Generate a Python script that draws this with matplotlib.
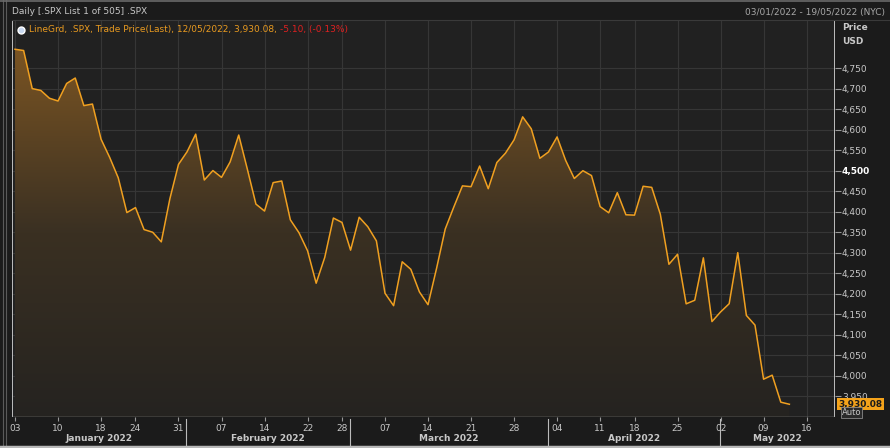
import numpy as np
import matplotlib.pyplot as plt
from matplotlib.colors import LinearSegmentedColormap
from matplotlib.lines import Line2D

# S&P 500 daily closes, 03/01/2022 - 12/05/2022 (trading days)
closes = [4796.56, 4793.54, 4700.58, 4696.05, 4677.03, 4670.29, 4713.07, 4726.35, 4659.03, 4662.85,
          4577.11, 4532.76, 4482.73, 4397.94, 4410.13, 4356.45, 4349.93, 4326.51, 4431.85, 4515.55,
          4546.54, 4589.38, 4477.44, 4500.53, 4483.87, 4521.54, 4587.18, 4504.08, 4418.64, 4401.67,
          4471.07, 4475.01, 4380.26, 4348.87, 4304.76, 4225.50, 4288.70, 4384.65, 4373.94,
          4306.26, 4386.54, 4363.49, 4328.87, 4201.09, 4170.70, 4277.88, 4259.52, 4204.31, 4173.11,
          4262.45, 4357.86, 4411.67, 4463.12, 4461.18, 4511.61, 4456.24, 4520.16, 4543.06, 4575.52,
          4631.60, 4602.45, 4530.41, 4545.86, 4582.64, 4525.12, 4481.15, 4500.21, 4488.28, 4412.53,
          4397.45, 4446.59, 4392.59, 4391.69, 4462.21, 4459.45, 4393.66, 4271.78, 4296.12, 4175.20,
          4183.96, 4287.50, 4131.93, 4155.38, 4175.48, 4300.17, 4146.87, 4123.34, 3991.24, 4001.05,
          3935.18, 3930.08]

# weekly tick labels (trading-day index, label)
tick_idx = [0, 5, 10, 14, 19, 24, 29, 34, 38, 43, 48, 53, 58, 63, 68, 72, 77, 82, 87, 92]
tick_lbl = ['03', '10', '18', '24', '31', '07', '14', '22', '28', '07', '14', '21', '28',
            '04', '11', '18', '25', '02', '09', '16']
months = ['January 2022', 'February 2022', 'March 2022', 'April 2022', 'May 2022']
month_start = [0, 20, 39, 62, 82]
price_ticks = np.arange(3950, 4751, 50)

bg = '#1b1b1b'
plot_bg = '#212121'
grid_c = '#363636'
text_c = '#c8c8c8'
line_c = '#f0a020'

fig = plt.figure(figsize=(8.9, 4.48), dpi=100, facecolor=bg)
W, H = 890, 448
x0, x1, y0, y1 = 12, 835, 20, 417
ax = fig.add_axes([x0 / W, 1 - y1 / H, (x1 - x0) / W, (y1 - y0) / H])
ax.set_facecolor(plot_bg)

x = np.arange(len(closes))
xlim = (-0.35, 95.3)
ylim = (3899, 4868)
ax.set_xlim(*xlim)
ax.set_ylim(*ylim)

# gradient fill under the line
cmap = LinearSegmentedColormap.from_list('g', ['#252320', '#3a3022', '#7a5422'])
grad = np.linspace(0, 1, 256).reshape(-1, 1)
im = ax.imshow(grad, cmap=cmap, aspect='auto', origin='lower',
               extent=[xlim[0], xlim[1], ylim[0], max(closes)], zorder=1)
poly = ax.fill_between(x, closes, ylim[0], color='none', lw=0)
im.set_clip_path(poly.get_paths()[0], transform=ax.transData)
ax.plot(x, closes, color=line_c, lw=1.1, zorder=3)

# grid
for v in price_ticks:
    ax.axhline(v, color=grid_c, lw=0.8, zorder=0.5)
for t in tick_idx:
    ax.axvline(t, color=grid_c, lw=0.8, zorder=0.5)

# axes frame
for s in ['top', 'left', 'bottom', 'right']:
    ax.spines[s].set_visible(False)
ax.axvline(xlim[0], color='#d8d8d8', lw=1.2, zorder=4)
ax.axvline(xlim[1], color='#d8d8d8', lw=1.2, zorder=4)
ax.axhline(ylim[0], color='#9a9a9a', lw=1.0, zorder=4)

ax.yaxis.tick_right()
ax.set_yticks(price_ticks)
ax.set_yticklabels([f'{v:,}' for v in price_ticks], color=text_c, fontsize=6.5)
for lab, v in zip(ax.get_yticklabels(), price_ticks):
    if v == 4500:
        lab.set_color('#ffffff')
        lab.set_fontweight('bold')
ax.tick_params(axis='y', length=4, color='#999999', pad=1)
ax.set_xticks(tick_idx)
ax.set_xticklabels(tick_lbl, color=text_c, fontsize=6.5)
ax.tick_params(axis='x', length=3, color='#999999', pad=2)

# month labels and separators
bounds = [xlim[0]] + [m - 0.1 for m in month_start[1:]] + [xlim[1]]
for i, m in enumerate(months):
    ax.text((bounds[i] + bounds[i + 1]) / 2, -0.055, m, transform=ax.get_xaxis_transform(),
            ha='center', va='center', color=text_c, fontsize=6.5, fontweight='bold')
for b in bounds[1:-1]:
    ax.plot([b, b], [-0.005, -0.075], transform=ax.get_xaxis_transform(),
            color='#bbbbbb', lw=0.8, clip_on=False)

# last price box
ax.text(1.004, (3930.08 - ylim[0]) / (ylim[1] - ylim[0]), '3,930.08', transform=ax.transAxes,
        ha='left', va='center', fontsize=6.5, color='#1a1a1a', fontweight='bold',
        bbox=dict(boxstyle='square,pad=0.15', fc='#f5a31a', ec='none'))
ax.text(1.008, 0.012, 'Auto', transform=ax.transAxes, ha='left', va='center',
        fontsize=6, color=text_c,
        bbox=dict(boxstyle='square,pad=0.1', fc='#2a2a2a', ec='#888888', lw=0.6))

# header and legend texts
fig.text(12 / W, 1 - 11 / H, 'Daily [.SPX List 1 of 505] .SPX', color=text_c,
         fontsize=6.5, va='center', ha='left')
fig.text(885 / W, 1 - 12 / H, '03/01/2022 - 19/05/2022 (NYC)', color='#a8a8a8',
         fontsize=6.5, va='center', ha='right')
fig.text(842 / W, 1 - 28 / H, 'Price', color=text_c, fontsize=6.5, va='center', fontweight='bold')
fig.text(842 / W, 1 - 42 / H, 'USD', color=text_c, fontsize=6.5, va='center', fontweight='bold')
ax.plot([0.011], [0.975], 'o', transform=ax.transAxes, ms=5, mfc='#c8d8f0', mec='#ffffff', zorder=5)
leg = ax.text(0.021, 0.975, 'LineGrd, .SPX, Trade Price(Last), 12/05/2022, 3,930.08, ',
              transform=ax.transAxes, color='#e89a20', fontsize=6.5, va='center', ha='left', zorder=5)
fig.canvas.draw()
bb = leg.get_window_extent().transformed(ax.transAxes.inverted())
ax.text(bb.x1, 0.975, '-5.10, (-0.13%)', transform=ax.transAxes, color='#e02020',
        fontsize=6.5, va='center', ha='left', zorder=5)

# outer frame lines
for xx in [3 / W, 6 / W]:
    fig.add_artist(Line2D([xx, xx], [0, 1], color='#5a5a5a', lw=0.8))
fig.add_artist(Line2D([0, 1], [1 - 1 / H, 1 - 1 / H], color='#6a6a6a', lw=1.2))
fig.add_artist(Line2D([x0 / W, 1], [1 - 20 / H, 1 - 20 / H], color='#3a3a3a', lw=0.8))
fig.add_artist(Line2D([0, 1], [1 / H, 1 / H], color='#b8b8b8', lw=2.5))

fig.savefig('out.png', dpi=100, facecolor=bg)
